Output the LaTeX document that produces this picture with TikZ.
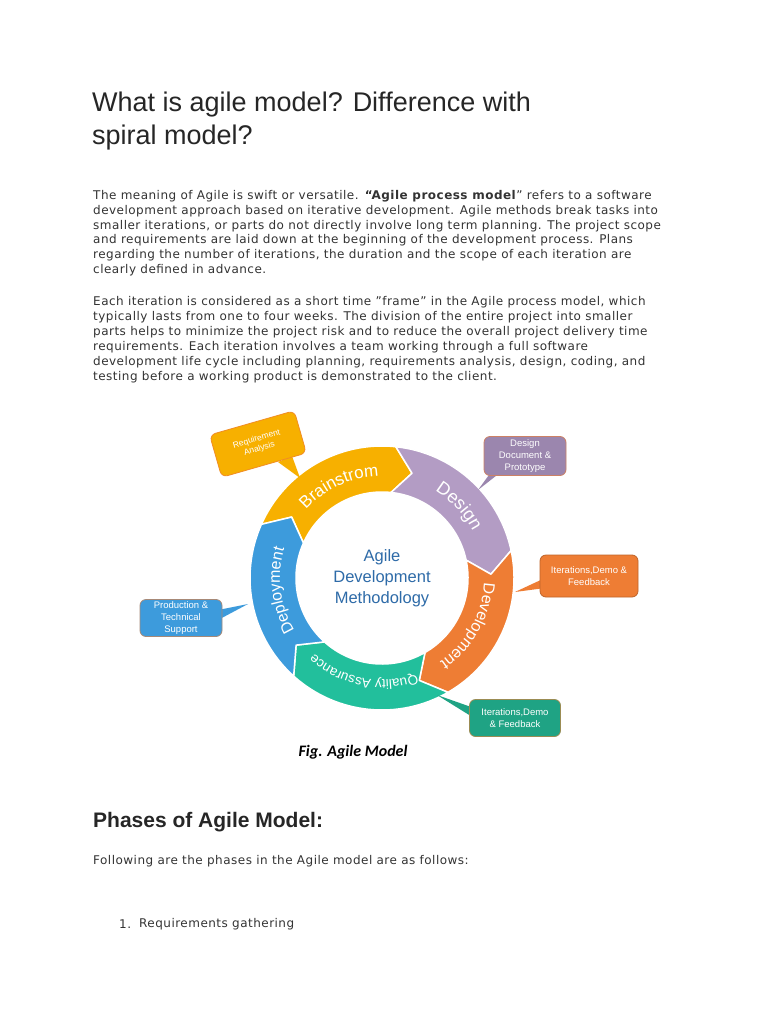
\documentclass[tikz,border=0pt]{standalone}
\usepackage{fontspec}
\setmainfont{DejaVu Sans}[LetterSpace=4]
\newfontfamily\arialf{Liberation Sans}
\newfontfamily\calib{Carlito}
\usetikzlibrary{calc,decorations.text}
\definecolor{txt}{HTML}{333333}
\definecolor{cy}{HTML}{F7B000}
\definecolor{cp}{HTML}{B39CC4}
\definecolor{co}{HTML}{EE7D34}
\definecolor{ct}{HTML}{22BF9C}
\definecolor{cb}{HTML}{3D9BDC}
\definecolor{cteal}{HTML}{1FA384}
\definecolor{cpur}{HTML}{9B86AE}
\definecolor{ctitle}{HTML}{2E6BA8}
\newcommand\agseg[3]{%
 \fill[#3,draw=white,line width=1.5pt,line join=round] ($(C)+(#1:132pt)$) arc[start angle=#1,end angle=#2,radius=132pt]
   -- ($(C)+({#2-10}:109pt)$) -- ($(C)+(#2:86pt)$) arc[start angle=#2,end angle=#1,radius=86pt]
   -- ($(C)+({#1-10}:109pt)$) -- cycle;}
\newcommand\agtxt[4]{%
 \path[decorate,decoration={text along path,text align=center,text={|\arialf\fontsize{#4}{#4}\selectfont\color{white}|#3}}]
   ($(C)+({#1-5}:102pt)$) arc[start angle={#1-5},end angle={#2-5},radius=102pt];}
\tikzset{body/.style={anchor=west,inner sep=0,font=\fontsize{12}{14}\selectfont,text=txt},
 callout/.style={rounded corners=6pt,inner sep=3pt,align=center,text=white,font=\arialf\fontsize{9.5}{12}\selectfont,line width=0.8pt}}
\begin{document}
\begin{tikzpicture}[x=1pt,y=1pt]
\useasboundingbox (0,0) rectangle (768,-1024);
\fill[white] (0,0) rectangle (768,-1024);
\node[anchor=west,inner sep=0,font=\arialf\fontsize{27}{33}\selectfont,text=black!85,align=left] (title) at (92,-121) {What is agile model? Difference with\\spiral model?};
\node[body] (l1) at (93,-196) {The meaning of Agile is swift or versatile. \textbf{“Agile process model}" refers to a software};
\node[body] (l2) at (93,-211) {development approach based on iterative development. Agile methods break tasks into};
\node[body] (l3) at (93,-226) {smaller iterations, or parts do not directly involve long term planning. The project scope};
\node[body] (l4) at (93,-240) {and requirements are laid down at the beginning of the development process. Plans};
\node[body] (l5) at (93,-255) {regarding the number of iterations, the duration and the scope of each iteration are};
\node[body] (l6) at (93,-270) {clearly defined in advance.};
\node[body] (m1) at (93,-302) {Each iteration is considered as a short time "frame" in the Agile process model, which};
\node[body] (m2) at (93,-317) {typically lasts from one to four weeks. The division of the entire project into smaller};
\node[body] (m3) at (93,-332) {parts helps to minimize the project risk and to reduce the overall project delivery time};
\node[body] (m4) at (93,-347) {requirements. Each iteration involves a team working through a full software};
\node[body] (m5) at (93,-362) {development life cycle including planning, requirements analysis, design, coding, and};
\node[body] (m6) at (93,-377) {testing before a working product is demonstrated to the client.};
% ring
\coordinate (C) at (382,-578);
\agseg{156}{84}{cy}
\agseg{84}{12}{cp}
\agseg{12}{-60}{co}
\agseg{-60}{-132}{ct}
\agseg{-132}{-204}{cb}
\agtxt{156}{84}{Brainstrom}{17}
\agtxt{84}{12}{Design}{18}
\agtxt{12}{-60}{Development}{16}
\agtxt{-60}{-132}{Quality Assurance}{13.5}
\agtxt{-132}{-204}{Deployment}{16}
\node[align=center,text=ctitle,font=\arialf\fontsize{16.5}{21}\selectfont] (ctr) at (C) {Agile\\Development\\Methodology};
% callouts
\coordinate (t1) at (300,-478);
\coordinate (t2) at (478,-490);
\coordinate (t3) at (515,-592);
\coordinate (t4) at (248,-604);
\coordinate (t5) at (437,-695);
\fill[cy] (t1) -- (278,-462) -- (292,-456) -- cycle;
\node[callout,fill=cy,draw=co!70!cy,rotate=16,minimum width=88pt,minimum height=44pt,font=\arialf\fontsize{8.5}{10}\selectfont] (ra) at (258,-444) {Requirement\\Analysis};
\fill[cpur] (t2) -- (494,-468) -- (506,-468) -- cycle;
\node[callout,fill=cpur,draw=co!60!cpur,minimum width=82pt,minimum height=39pt,inner sep=1pt] (dd) at (525,-456) {Design\\Document \&\\Prototype};
\fill[co] (t3) -- (545,-578) -- (545,-588) -- cycle;
\node[callout,fill=co,draw=co!80!black,minimum width=98pt,minimum height=42pt] (it1) at (589,-576) {Iterations,Demo \&\\Feedback};
\fill[cb] (t4) -- (218,-610) -- (218,-620) -- cycle;
\node[callout,fill=cb,draw=co!60!cb,minimum width=82pt,minimum height=37pt,inner sep=1pt] (ps) at (181,-618) {Production \&\\Technical\\Support};
\fill[cteal] (t5) -- (474,-708) -- (474,-718) -- cycle;
\node[callout,fill=cteal,draw=co!60!cteal,minimum width=91pt,minimum height=37pt] (it2) at (515,-718) {Iterations,Demo\\\& Feedback};
\node[font=\calib\bfseries\itshape\fontsize{16}{18}\selectfont,text=black] (cap) at (353,-752) {Fig. Agile Model};
% phases
\node[anchor=west,inner sep=0,font=\arialf\bfseries\fontsize{21}{24}\selectfont,text=black!85] (ph) at (93,-822) {Phases of Agile Model:};
\node[body] (fo) at (93,-861) {Following are the phases in the Agile model are as follows:};
\node[body] (n1) at (119,-924) {1.};
\node[body] (r1) at (139,-924) {Requirements gathering};
\end{tikzpicture}
\end{document}
